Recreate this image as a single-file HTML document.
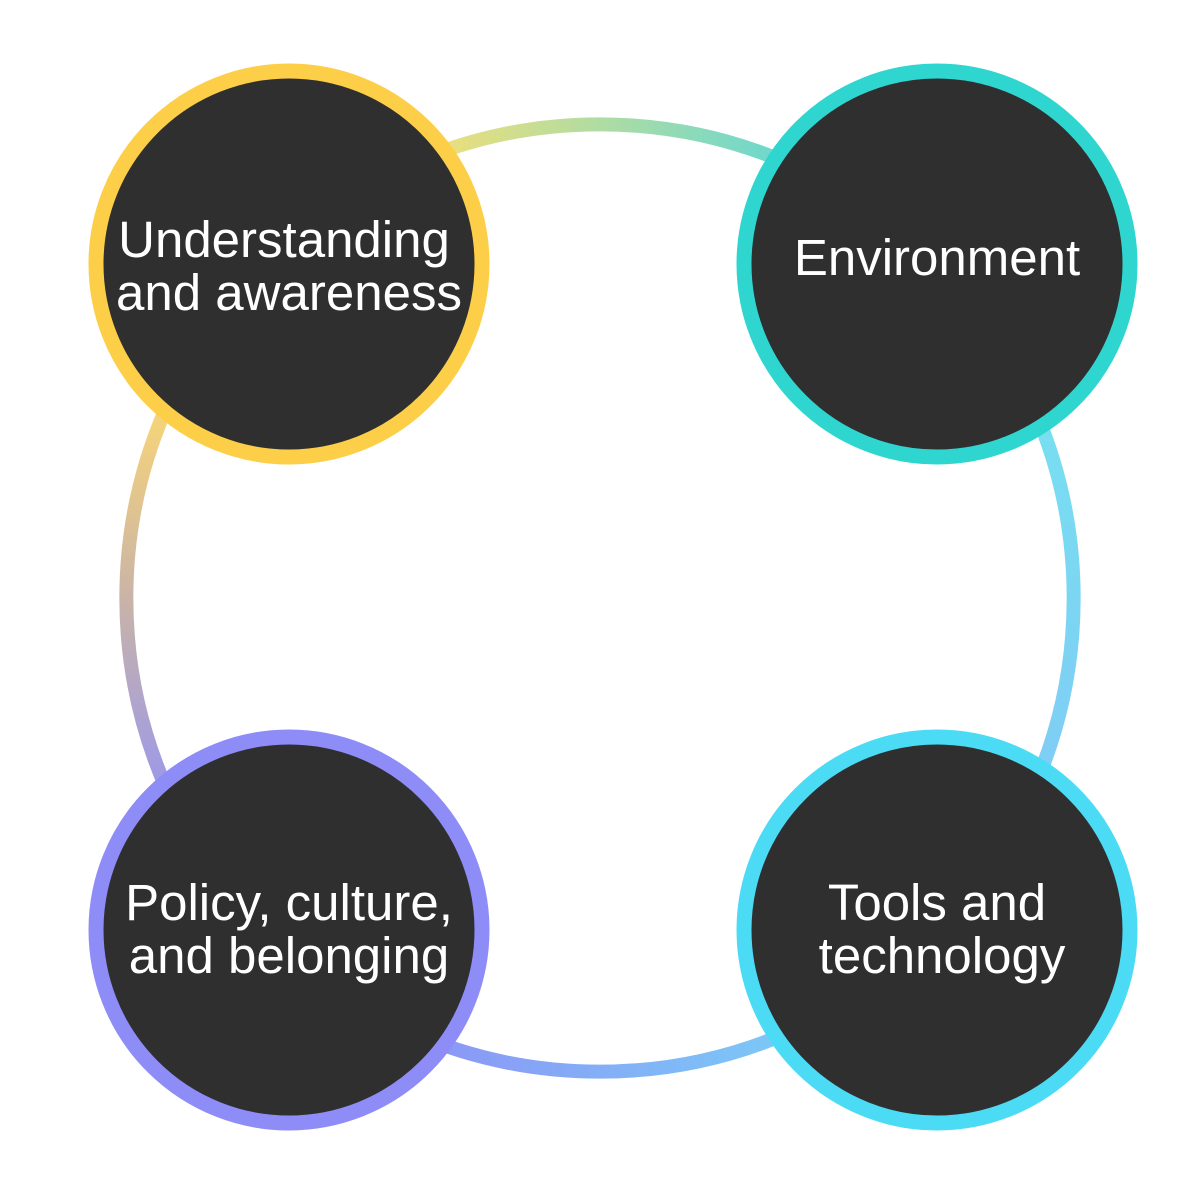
<!DOCTYPE html>
<html><head><style>
html,body{margin:0;padding:0;background:#fff;width:1200px;height:1200px;overflow:hidden}
.t{font-family:"Liberation Sans",sans-serif;font-size:51px;fill:#fff;text-anchor:middle}
</style></head><body>
<svg width="1200" height="1200" viewBox="0 0 1200 1200">
<defs>
<linearGradient id="gt" x1="450" y1="0" x2="770" y2="0" gradientUnits="userSpaceOnUse"><stop offset="0" stop-color="#e8df7e"/><stop offset="1" stop-color="#6fd8cc"/></linearGradient>
<linearGradient id="gr" x1="0" y1="430" x2="0" y2="770" gradientUnits="userSpaceOnUse"><stop offset="0" stop-color="#78def0"/><stop offset="1" stop-color="#7fcdf5"/></linearGradient>
<linearGradient id="gb" x1="450" y1="0" x2="770" y2="0" gradientUnits="userSpaceOnUse"><stop offset="0" stop-color="#8a99f6"/><stop offset="1" stop-color="#7cc6f7"/></linearGradient>
<linearGradient id="gl" x1="0" y1="420" x2="0" y2="780" gradientUnits="userSpaceOnUse"><stop offset="0" stop-color="#f5d37a"/><stop offset="0.5" stop-color="#c9b3a8"/><stop offset="1" stop-color="#9e9ae6"/></linearGradient>
</defs>
<g fill="none" stroke-width="14">
<path d="M265 263 A474 474 0 0 1 935 263" stroke="url(#gt)"/>
<path d="M935 263 A474 474 0 0 1 935 933" stroke="url(#gr)"/>
<path d="M935 933 A474 474 0 0 1 265 933" stroke="url(#gb)"/>
<path d="M265 933 A474 474 0 0 1 265 263" stroke="url(#gl)"/>
</g>
<g stroke-width="15" fill="#2f2f2f">
<circle cx="289" cy="264" r="193" stroke="#fdcf48"/>
<circle cx="937" cy="264" r="193" stroke="#2fd6d0"/>
<circle cx="289" cy="930" r="193" stroke="#8e8df8"/>
<circle cx="937" cy="930" r="193" stroke="#4cdbf5"/>
</g>
<text class="t" x="284" y="257">Understanding</text>
<text class="t" x="289" y="310">and awareness</text>
<text class="t" x="937" y="275">Environment</text>
<text class="t" x="289" y="920">Policy, culture,</text>
<text class="t" x="289" y="973">and belonging</text>
<text class="t" x="937" y="920">Tools and</text>
<text class="t" x="942" y="973">technology</text>
</svg>
</body></html>
